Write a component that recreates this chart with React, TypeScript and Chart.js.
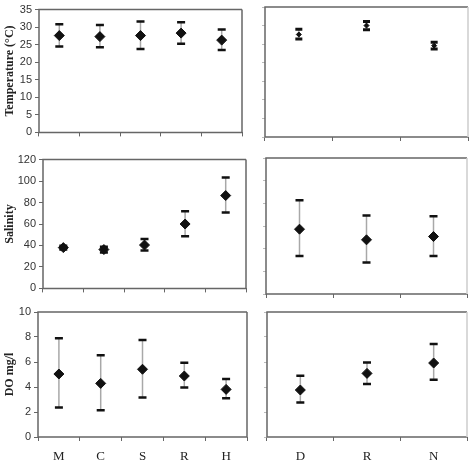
import React, { useEffect, useRef } from 'react';
import { Chart, registerables } from 'chart.js';

Chart.register(...registerables);

// categories
const siteLabels = ['M', 'C', 'S', 'R', 'H'];
const zoneLabels = ['D', 'R', 'N'];

// temperature (°C)
const tempSiteMean = [27.6, 27.3, 27.6, 28.3, 26.3];
const tempSiteLow = [24.5, 24.3, 23.8, 25.3, 23.5];
const tempSiteHigh = [30.8, 30.6, 31.6, 31.4, 29.3];
const tempZoneMean = [27.6, 30.0, 24.6];
const tempZoneLow = [26.4, 28.9, 23.7];
const tempZoneHigh = [29.0, 31.1, 25.5];

// salinity
const salSiteMean = [38, 36.2, 40.4, 60, 86.5];
const salSiteLow = [36.2, 33.5, 35.3, 48.5, 70.8];
const salSiteHigh = [39.8, 38.9, 46.1, 71.8, 103.4];
const salZoneMean = [57.2, 47.8, 50.7];
const salZoneLow = [33.5, 27.9, 33.5];
const salZoneHigh = [82.7, 69.2, 68.7];

// dissolved oxygen (mg/l)
const doSiteMean = [5.04, 4.29, 5.42, 4.88, 3.81];
const doSiteLow = [2.36, 2.14, 3.16, 3.97, 3.11];
const doSiteHigh = [7.9, 6.54, 7.77, 5.95, 4.64];
const doZoneMean = [3.76, 5.09, 5.92];
const doZoneLow = [2.77, 4.24, 4.59];
const doZoneHigh = [4.9, 5.97, 7.44];

// y axis ranges [max, step]
const tempAxis = [35, 5];
const salAxis = [120, 20];
const doAxis = [10, 2];

interface PanelProps {
  labels: string[];
  mean: number[];
  low: number[];
  high: number[];
  axis: number[];
  title?: string;
  showY: boolean;
  showX: boolean;
  x0: number;
  y0: number;
  plot: { l: number; t: number; r: number; b: number };
  rightColor: string;
  radius: number;
  capW: number;
  capT: number;
}

const Panel: React.FC<PanelProps> = (p) => {
  const canvasRef = useRef<HTMLCanvasElement>(null);
  const xH = p.showX ? 30 : 6;
  const width = p.plot.r + 2 - p.x0;
  const height = p.plot.b - p.y0 + xH;

  useEffect(() => {
    if (!canvasRef.current) return;
    const ctx = canvasRef.current.getContext('2d');
    if (!ctx) return;

    const errorBars = {
      id: 'errorBars',
      beforeDatasetsDraw(chart: any) {
        const { ctx: c, scales } = chart;
        const xs = scales.x;
        const ys = scales.y;
        c.save();
        p.low.forEach((lo, i) => {
          const px = xs.getPixelForValue(i);
          const yl = ys.getPixelForValue(lo);
          const yh = ys.getPixelForValue(p.high[i]);
          c.strokeStyle = '#a8a8a8';
          c.lineWidth = 1.5;
          c.beginPath();
          c.moveTo(px, yh);
          c.lineTo(px, yl);
          c.stroke();
          c.strokeStyle = '#111';
          c.lineWidth = p.capT;
          c.beginPath();
          c.moveTo(px - p.capW / 2, yh);
          c.lineTo(px + p.capW / 2, yh);
          c.moveTo(px - p.capW / 2, yl);
          c.lineTo(px + p.capW / 2, yl);
          c.stroke();
        });
        c.restore();
      },
    };

    const frame = {
      id: 'frame',
      afterDraw(chart: any) {
        const { ctx: c, chartArea: a } = chart;
        c.save();
        c.lineWidth = 1.5;
        c.strokeStyle = '#666';
        c.beginPath();
        c.moveTo(a.right, a.top);
        c.lineTo(a.left, a.top);
        c.lineTo(a.left, a.bottom);
        c.lineTo(a.right, a.bottom);
        c.stroke();
        c.strokeStyle = p.rightColor;
        c.beginPath();
        c.moveTo(a.right, a.top);
        c.lineTo(a.right, a.bottom);
        c.stroke();
        c.restore();
      },
    };

    const chart = new Chart(ctx, {
      type: 'line',
      data: {
        labels: p.labels,
        datasets: [
          {
            data: p.mean,
            showLine: false,
            pointStyle: 'rectRot',
            pointRadius: p.radius,
            pointBackgroundColor: '#111',
            pointBorderColor: '#111',
            pointBorderWidth: 1,
          },
        ],
      },
      options: {
        animation: false,
        responsive: true,
        maintainAspectRatio: false,
        layout: { padding: { left: 0, right: 2, top: p.plot.t - p.y0, bottom: 0 } },
        plugins: { legend: { display: false }, tooltip: { enabled: false } },
        scales: {
          x: {
            offset: true,
            grid: { offset: true, drawOnChartArea: false, drawTicks: true, tickLength: 4, color: '#666' },
            border: { display: false },
            ticks: {
              display: p.showX,
              padding: 8,
              color: '#222',
              font: { family: 'Liberation Serif', size: 13 },
            },
            afterFit: (s: any) => {
              s.height = xH;
            },
          },
          y: {
            min: 0,
            max: p.axis[0],
            grid: {
              drawOnChartArea: false,
              drawTicks: true,
              tickLength: p.showY ? 4 : 3,
              color: p.showY ? '#666' : '#bbb',
            },
            border: { display: false },
            ticks: {
              display: p.showY,
              stepSize: p.axis[1],
              padding: 3,
              color: '#333',
              font: { family: 'Liberation Sans', size: 11 },
            },
            title: {
              display: !!p.title,
              text: p.title,
              color: '#222',
              font: { family: 'Liberation Serif', size: 12, weight: 'bold' },
              padding: { top: 3, bottom: 0 },
            },
            afterFit: (s: any) => {
              s.width = p.plot.l - p.x0;
            },
          },
        },
      },
      plugins: [errorBars, frame],
    } as any);

    return () => {
      chart.destroy();
    };
  }, [p]);

  return (
    <div style={{ position: 'absolute', left: p.x0, top: p.y0, width, height }}>
      <canvas ref={canvasRef}></canvas>
    </div>
  );
};

const panels: PanelProps[] = [
  {
    labels: siteLabels, mean: tempSiteMean, low: tempSiteLow, high: tempSiteHigh, axis: tempAxis,
    title: 'Temperature (°C)', showY: true, showX: false, x0: 0, y0: 0,
    plot: { l: 39, t: 8, r: 246, b: 136 }, rightColor: '#666', radius: 5, capW: 8, capT: 2.5,
  },
  {
    labels: zoneLabels, mean: tempZoneMean, low: tempZoneLow, high: tempZoneHigh, axis: tempAxis,
    showY: false, showX: false, x0: 259, y0: 0,
    plot: { l: 265, t: 7, r: 471, b: 137 }, rightColor: '#ccc', radius: 2.5, capW: 7, capT: 3,
  },
  {
    labels: siteLabels, mean: salSiteMean, low: salSiteLow, high: salSiteHigh, axis: salAxis,
    title: 'Salinity', showY: true, showX: false, x0: 0, y0: 150,
    plot: { l: 43, t: 159, r: 250, b: 292 }, rightColor: '#666', radius: 5, capW: 8, capT: 2.5,
  },
  {
    labels: zoneLabels, mean: salZoneMean, low: salZoneLow, high: salZoneHigh, axis: salAxis,
    showY: false, showX: false, x0: 260, y0: 150,
    plot: { l: 266, t: 158, r: 471, b: 294 }, rightColor: '#ccc', radius: 5, capW: 8, capT: 2.5,
  },
  {
    labels: siteLabels, mean: doSiteMean, low: doSiteLow, high: doSiteHigh, axis: doAxis,
    title: 'DO mg/l', showY: true, showX: true, x0: 0, y0: 302,
    plot: { l: 38, t: 312, r: 251, b: 437 }, rightColor: '#666', radius: 5, capW: 8, capT: 2.5,
  },
  {
    labels: zoneLabels, mean: doZoneMean, low: doZoneLow, high: doZoneHigh, axis: doAxis,
    showY: false, showX: true, x0: 261, y0: 302,
    plot: { l: 267, t: 312, r: 471, b: 437 }, rightColor: '#ccc', radius: 5, capW: 8, capT: 2.5,
  },
];

export default function App() {
  return (
    <div style={{ position: 'absolute', left: 0, top: 0, width: 474, height: 467, background: '#fff' }}>
      {panels.map((p, i) => (
        <Panel key={i} {...p} />
      ))}
    </div>
  );
}
